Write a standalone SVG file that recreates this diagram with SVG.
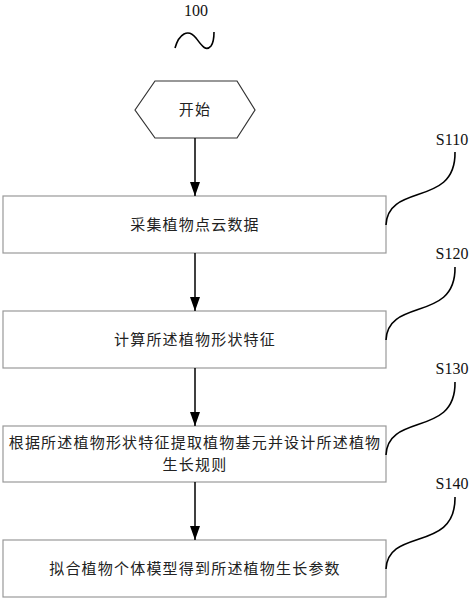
<svg xmlns="http://www.w3.org/2000/svg" width="474" height="602" viewBox="0 0 474 602">
<style>
.box{fill:#fff;stroke:#999;stroke-width:1.2}
.hex{fill:#fff;stroke:#333;stroke-width:1.2}
.cn{font-family:"Noto Sans CJK SC","Noto Sans",sans-serif;font-size:15px;fill:#222;letter-spacing:1.2px;text-anchor:middle}
.lbl{font-family:"Liberation Serif",serif;font-size:16px;fill:#111;text-anchor:middle}
.conn{stroke:#000;stroke-width:1.5;fill:none}
.cur{stroke:#000;stroke-width:1.6;fill:none}
</style>
<defs>
<marker id="ah" markerWidth="14" markerHeight="10" refX="14" refY="5" orient="auto" markerUnits="userSpaceOnUse" viewBox="0 0 14 10">
<path d="M0,0 L14,5 L0,10 Z" fill="#000"/>
</marker>
</defs>
<g id="title">
<text class="lbl" x="196" y="16">100</text>
<path class="cur" d="M175,48 C179,34 188,28 196,38 C202,46 206,52 211,46 C214,42 214,37 214,32"/>
</g>
<g id="start">
<polygon class="hex" points="135,110 155,81 237,81 255,110 237,138 155,138"/>
<text class="cn" x="195" y="115">开始</text>
</g>
<g id="s110">
<rect class="box" x="3" y="196" width="383" height="57"/>
<text class="cn" x="195" y="230">采集植物点云数据</text>
</g>
<g id="s120">
<rect class="box" x="3" y="311" width="383" height="57"/>
<text class="cn" x="195" y="345">计算所述植物形状特征</text>
</g>
<g id="s130">
<rect class="box" x="3" y="426" width="383" height="56"/>
<text class="cn" x="195" y="448">根据所述植物形状特征提取植物基元并设计所述植物</text>
<text class="cn" x="195" y="470">生长规则</text>
</g>
<g id="s140">
<rect class="box" x="3" y="540" width="383" height="57"/>
<text class="cn" x="195" y="574">拟合植物个体模型得到所述植物生长参数</text>
</g>
<g id="connectors">
<line class="conn" x1="195" y1="138" x2="195" y2="196" marker-end="url(#ah)"/>
<line class="conn" x1="195" y1="253" x2="195" y2="311" marker-end="url(#ah)"/>
<line class="conn" x1="195" y1="368" x2="195" y2="426" marker-end="url(#ah)"/>
<line class="conn" x1="195" y1="482" x2="195" y2="540" marker-end="url(#ah)"/>
</g>
<g id="labels">
<text class="lbl" x="452" y="145">S110</text>
<path class="cur" d="M455,152 C456,208 388,182 386,225"/>
<text class="lbl" x="452" y="259">S120</text>
<path class="cur" d="M455,267 C456,323 388,297 386,340"/>
<text class="lbl" x="452" y="374">S130</text>
<path class="cur" d="M455,382 C456,438 388,412 386,455"/>
<text class="lbl" x="452" y="489">S140</text>
<path class="cur" d="M455,497 C456,553 388,527 386,569"/>
</g>
</svg>
